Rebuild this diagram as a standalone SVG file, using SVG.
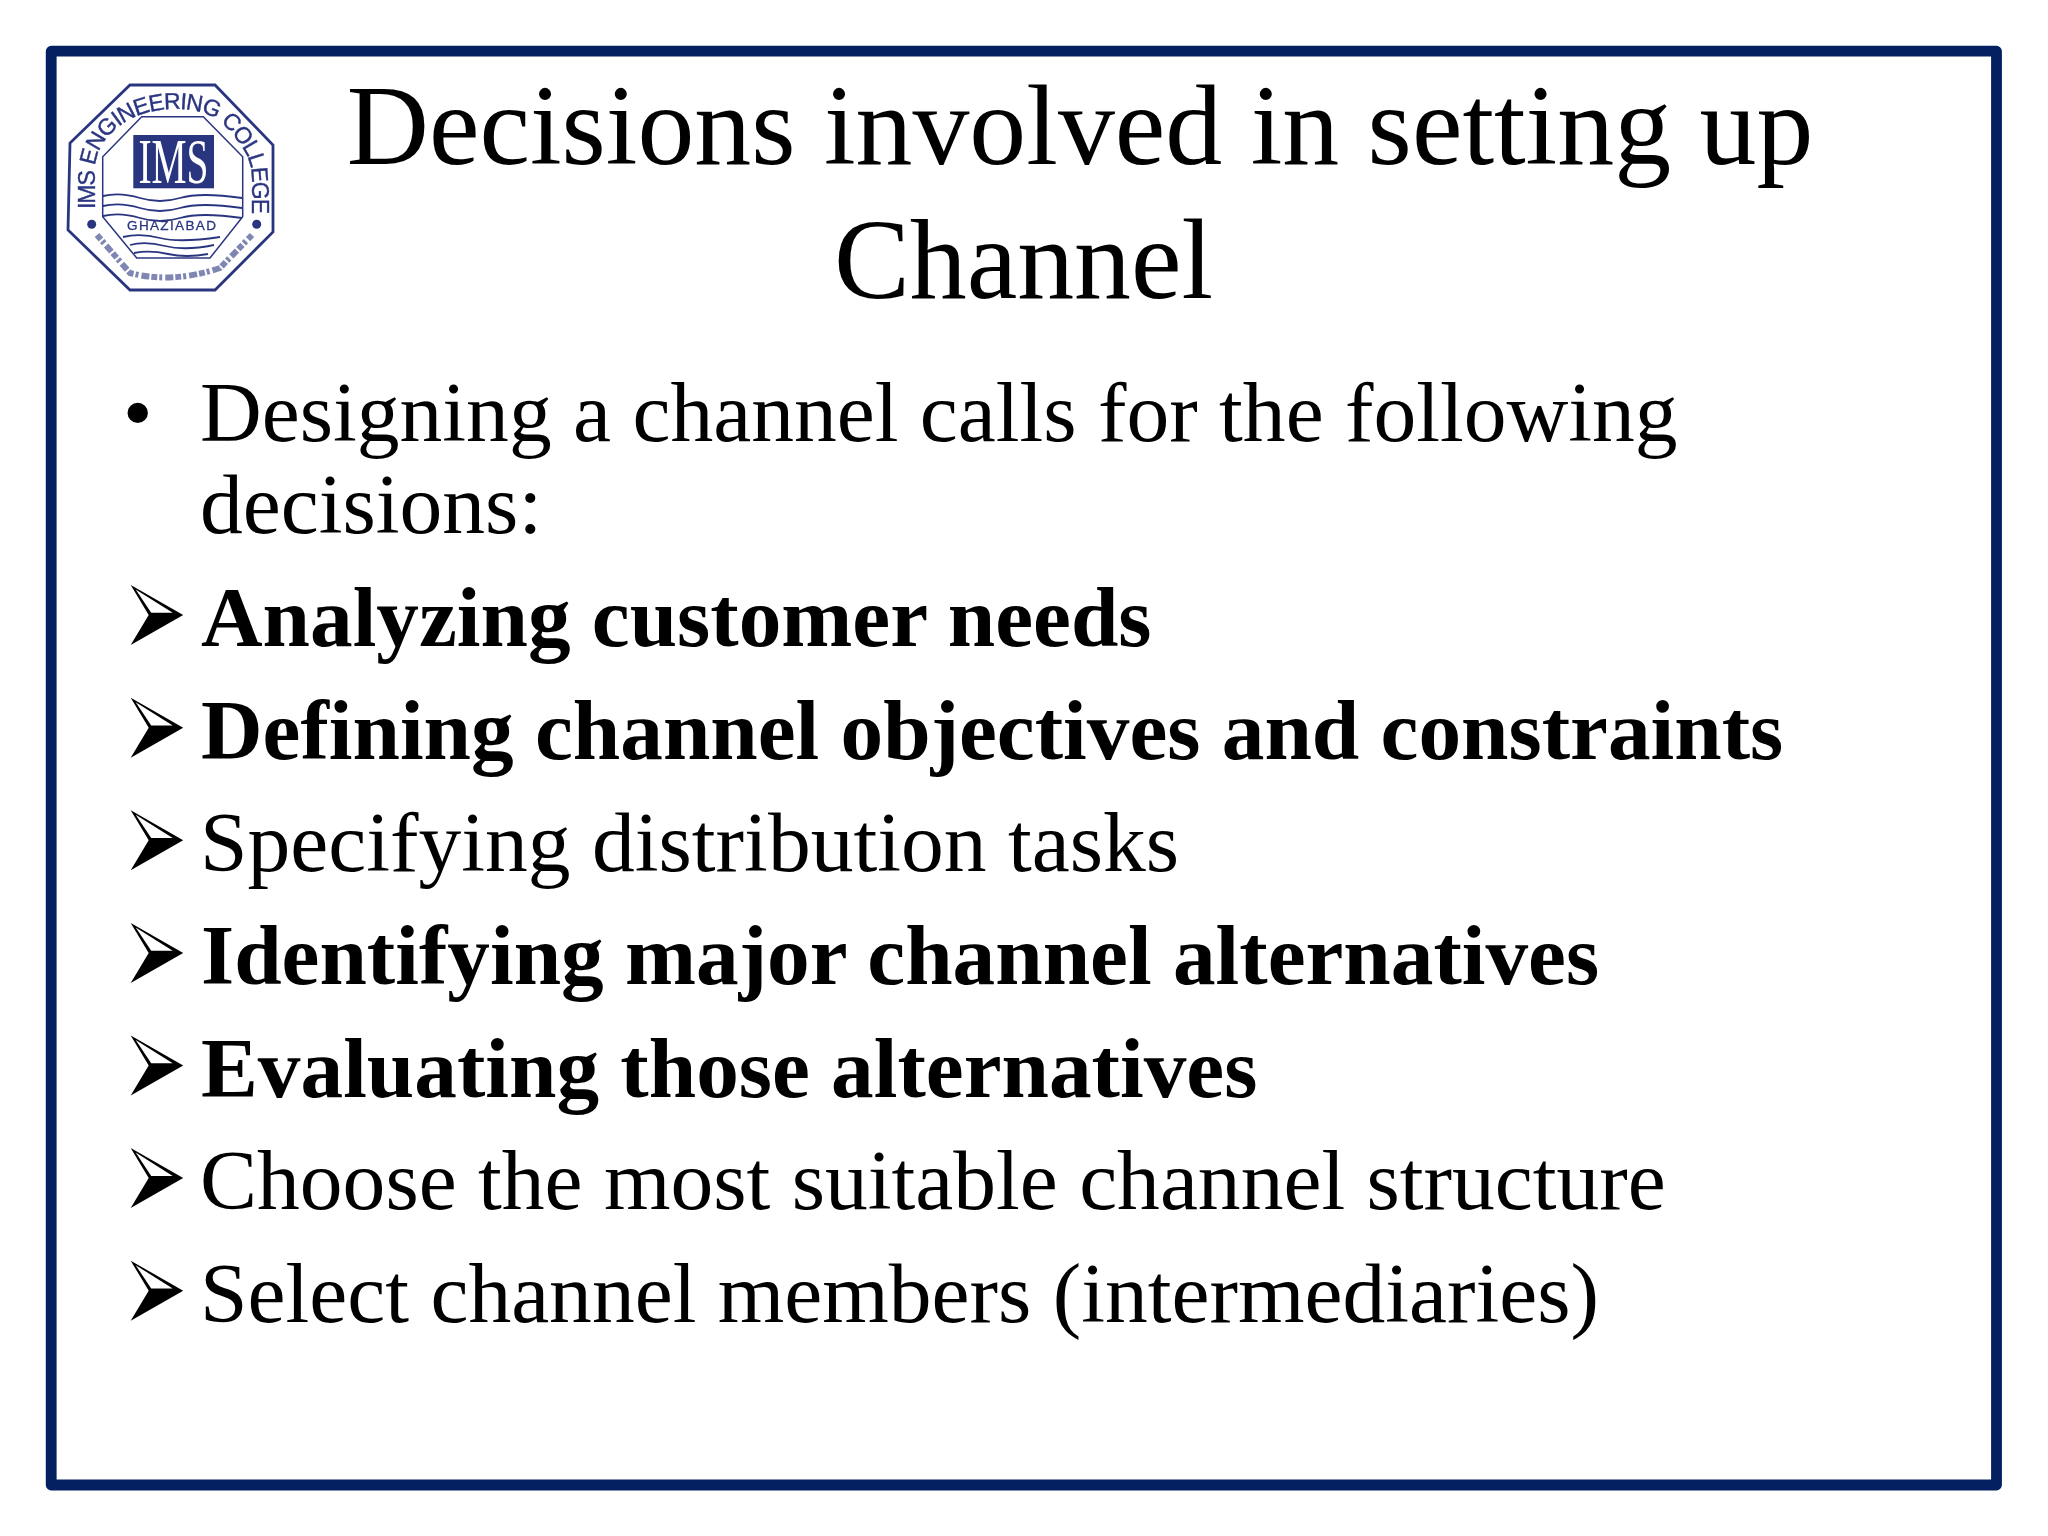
<svg xmlns="http://www.w3.org/2000/svg" width="2048" height="1536" viewBox="0 0 2048 1536">
<style>
text{font-family:"Liberation Serif","Times New Roman",serif;fill:#000}
.t{font-size:113.800px;text-anchor:middle}
.b{font-size:85.550px}
.bd{font-weight:bold;font-size:85.280px}
.lg{font-family:"Liberation Sans",Arial,sans-serif;fill:#2b3680}
.w{fill:none;stroke:#2b3680;stroke-width:1.800}
</style>
<defs>
<g id="arrow"><path d="M0 0L52.500 30L0 60L18 30Z" fill="#000"/><path d="M5 4.500L42 27.800L20.500 27.800Z" fill="#fff"/></g>
<path id="arcTop" d="M95 209V167C97 140 125 110 173 109C205 109 220 118 232 134C245 150 252 160 252 180V209"/>
<filter id="soft" x="-5%" y="-5%" width="110%" height="110%"><feGaussianBlur stdDeviation="0.500"/></filter>
</defs>
<rect width="2048" height="1536" fill="#fff"/>
<rect id="frame" x="51.200" y="51.200" width="1945.300" height="1433.800" fill="#fff" stroke="#042061" stroke-width="10.800" stroke-linejoin="round"/>
<g id="logo" filter="url(#soft)">
<path d="M130 85H215L273 145V232L215 290H130L68 230L70 143Z" fill="#fff" stroke="#2b3680" stroke-width="2.800"/>
<path d="M141.700 116.700H203.300L242.700 156.700V216.700L210 258H136.700L102.700 216.700V156.700Z" fill="#fff" stroke="#2b3680" stroke-width="1.500"/>
<rect x="133.300" y="135" width="80.700" height="53.300" fill="#2b3680"/>
<text x="173.500" y="183" text-anchor="middle" style="font-size:64px;fill:#fff" textLength="70" lengthAdjust="spacingAndGlyphs">IMS</text>
<path class="w" d="M103 196Q120 192 140 198T180 198T242 198M103 206Q120 202 140 208T180 208T242 208M103 216Q120 212 140 218T180 218T242 218"/>
<text x="171.500" y="230" text-anchor="middle" class="lg" style="font-size:13.500px;stroke:#2b3680;stroke-width:.3" textLength="89">GHAZIABAD</text>
<path class="w" d="M123 237Q140 233 160 238T220 237M130 245Q145 241 165 246T214 245M134 253Q150 250 168 254T208 254"/>
<text class="lg" style="font-size:23px;letter-spacing:-1.050px;stroke:#2b3680;stroke-width:.4"><textPath href="#arcTop">IMS ENGINEERING COLLEGE</textPath></text>
<circle cx="91.700" cy="224.300" r="4.500" fill="#2b3680"/><circle cx="256.700" cy="224.300" r="4.500" fill="#2b3680"/>
<path d="M97 235L130 273Q172 284 220 268L252 235" fill="none" stroke="#2b3680" stroke-width="6" stroke-dasharray="6 2 3 3 8 2" opacity=".6"/>
</g>
<g id="title">
<text class="t" x="1080" y="163.500">Decisions involved in setting up</text>
<text class="t" x="1023.500" y="298">Channel</text>
</g>
<g id="body">
<text class="b" x="122.700" y="441">•</text>
<text class="b" x="200" y="440.700">Designing a channel calls for the following</text>
<text class="b" x="200" y="533.300">decisions:</text>
<use href="#arrow" x="130.700" y="585"/><text class="b bd" x="201" y="646">Analyzing customer needs</text>
<use href="#arrow" x="130.700" y="697.700"/><text class="b bd" x="201" y="758.700">Defining channel objectives and constraints</text>
<use href="#arrow" x="130.700" y="810.300"/><text class="b" x="200" y="871.300">Specifying distribution tasks</text>
<use href="#arrow" x="130.700" y="922.900"/><text class="b bd" x="201" y="983.900">Identifying major channel alternatives</text>
<use href="#arrow" x="130.700" y="1035.500"/><text class="b bd" x="201" y="1096.500">Evaluating those alternatives</text>
<use href="#arrow" x="130.700" y="1148.100"/><text class="b" x="200" y="1209.100">Choose the most suitable channel structure</text>
<use href="#arrow" x="130.700" y="1260.700"/><text class="b" x="200" y="1321.700">Select channel members (intermediaries)</text>
</g>
</svg>
